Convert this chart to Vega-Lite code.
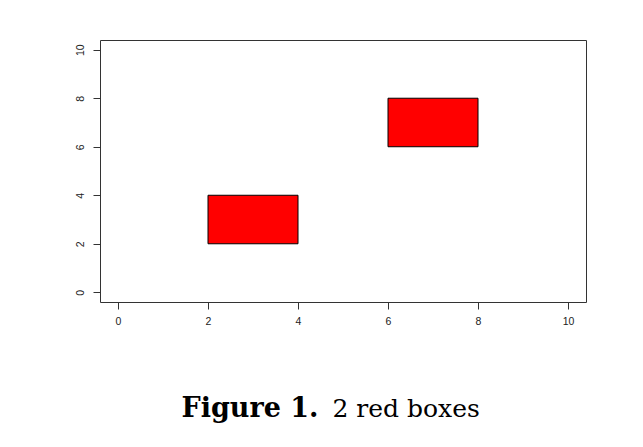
{
  "$schema": "https://vega.github.io/schema/vega-lite/v6.json",
  "autosize": "none",
  "width": 486,
  "height": 262,
  "padding": {"left": 100, "top": 40, "right": 57, "bottom": 145},
  "background": "white",
  "data": {
    "values": [
      {"x1": 2, "x2": 4, "y1": 2, "y2": 4},
      {"x1": 6, "x2": 8, "y1": 6, "y2": 8}
    ]
  },
  "mark": {"type": "rect", "fill": "#ff0000", "stroke": "#000000", "strokeWidth": 1},
  "encoding": {
    "x": {
      "field": "x1",
      "type": "quantitative",
      "scale": {"domain": [-0.4, 10.4], "nice": false, "zero": false},
      "axis": {
        "values": [0, 2, 4, 6, 8, 10],
        "domain": false,
        "grid": false,
        "tickSize": 7,
        "tickColor": "#333333",
        "labelFont": "Liberation Sans",
        "labelFontSize": 10.5,
        "labelColor": "#222222",
        "labelPadding": 7,
        "labelFlush": false,
        "title": "Figure 1.",
        "titleFont": "DejaVu Serif",
        "titleFontSize": 27,
        "titleFontWeight": "bold",
        "titleColor": "#000000",
        "titleAlign": "left",
        "titleBaseline": "alphabetic",
        "titleAnchor": "start",
        "titleX": 81,
        "titleY": 114
      }
    },
    "x2": {"field": "x2"},
    "y": {
      "field": "y1",
      "type": "quantitative",
      "scale": {"domain": [-0.4, 10.4], "nice": false, "zero": false},
      "axis": {
        "values": [0, 2, 4, 6, 8, 10],
        "domain": false,
        "grid": false,
        "tickSize": 7,
        "tickColor": "#333333",
        "labelFont": "Liberation Sans",
        "labelFontSize": 10.5,
        "labelColor": "#222222",
        "labelAngle": 270,
        "labelAlign": "center",
        "labelBaseline": "bottom",
        "labelPadding": 8,
        "labelFlush": false,
        "title": "2 red boxes",
        "titleFont": "DejaVu Serif",
        "titleFontSize": 25,
        "titleFontWeight": "normal",
        "titleColor": "#000000",
        "titleAngle": 0,
        "titleAlign": "left",
        "titleBaseline": "alphabetic",
        "titleX": 232,
        "titleY": 376
      }
    },
    "y2": {"field": "y2"}
  },
  "config": {
    "view": {"stroke": "#333333", "strokeWidth": 1}
  }
}
